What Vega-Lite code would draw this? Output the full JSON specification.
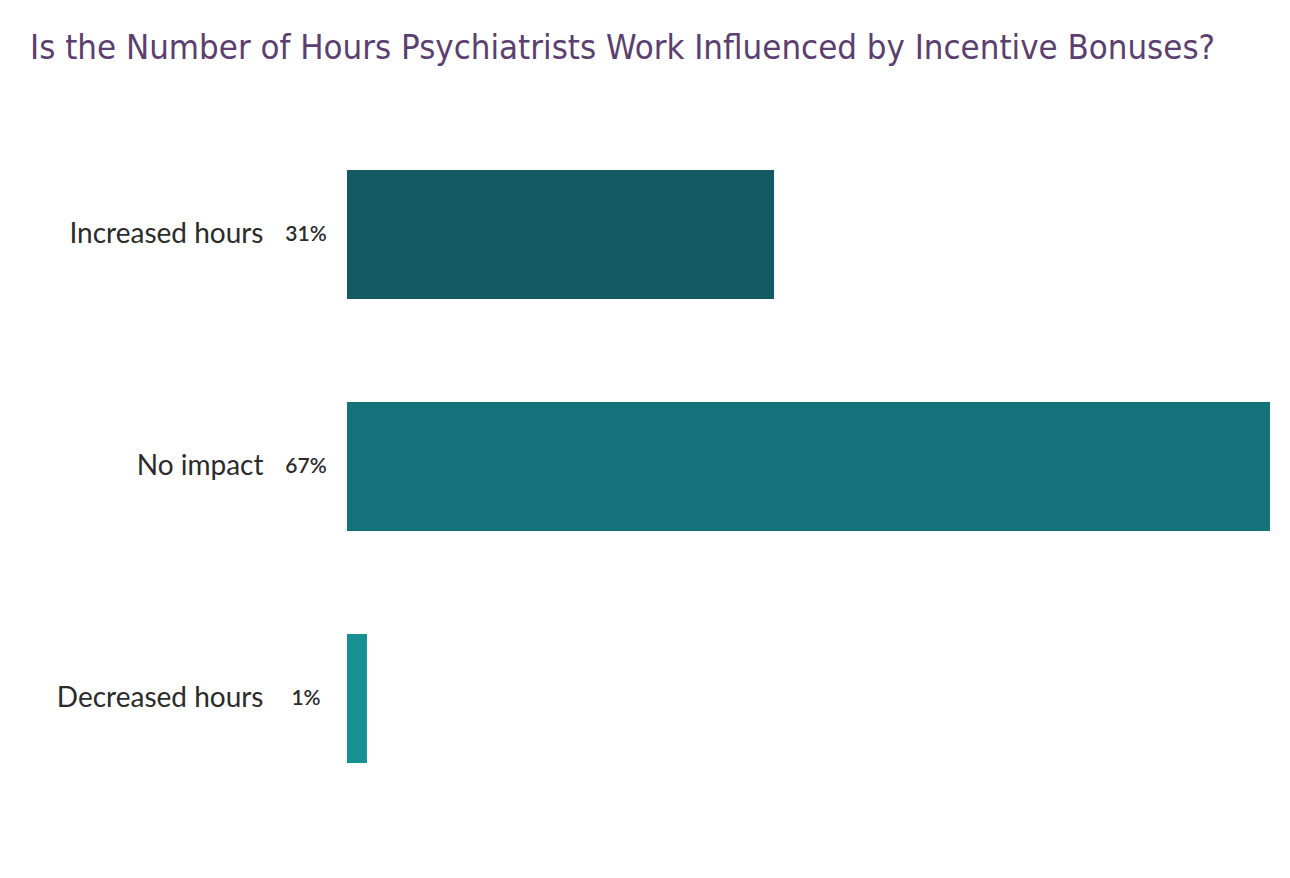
{
  "$schema": "https://vega.github.io/schema/vega-lite/v6.json",
  "width": 923,
  "height": 696,
  "autosize": {"type": "none"},
  "padding": {"left": 347, "top": 118.5, "right": 20, "bottom": 63.5},
  "background": "white",
  "title": {
    "text": "Is the Number of Hours Psychiatrists Work Influenced by Incentive Bonuses?",
    "anchor": "start",
    "frame": "group",
    "font": "Liberation Sans Narrow, DejaVu Sans Condensed, Roboto",
    "fontSize": 34.5,
    "fontWeight": "normal",
    "color": "#5b3f6f",
    "baseline": "alphabetic",
    "offset": 25,
    "dx": -317
  },
  "data": {
    "values": [
      {"category": "Increased hours", "value": 31, "label": "31%", "color": "#135a63"},
      {"category": "No impact", "value": 67, "label": "67%", "color": "#15717a"},
      {"category": "Decreased hours", "value": 1.45, "label": "1%", "color": "#178f93"}
    ]
  },
  "encoding": {
    "y": {
      "field": "category",
      "type": "nominal",
      "sort": null,
      "scale": {"paddingInner": 0.444, "paddingOuter": 0.222},
      "axis": {
        "title": null,
        "domain": false,
        "ticks": false,
        "labelPadding": 84,
        "labelLimit": 400,
        "labelFont": "Lato",
        "labelFontSize": 28,
        "labelColor": "#2b2b2b"
      }
    }
  },
  "layer": [
    {
      "mark": {"type": "bar"},
      "encoding": {
        "x": {
          "field": "value",
          "type": "quantitative",
          "scale": {"domain": [0, 67], "nice": false},
          "axis": null
        },
        "color": {"field": "color", "type": "nominal", "scale": null, "legend": null}
      }
    },
    {
      "mark": {
        "type": "text",
        "align": "center",
        "baseline": "middle",
        "dx": -41,
        "font": "Lato",
        "fontSize": 21,
        "fontWeight": 600,
        "color": "#2b2b2b"
      },
      "encoding": {
        "x": {"datum": 0, "type": "quantitative"},
        "text": {"field": "label"}
      }
    }
  ],
  "config": {
    "view": {"stroke": null}
  }
}
